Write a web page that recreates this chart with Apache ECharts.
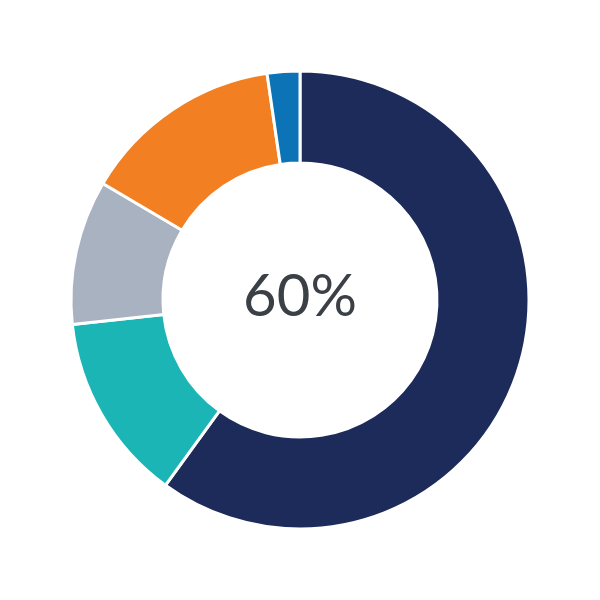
<!DOCTYPE html>
<html>
<head>
<meta charset="utf-8">
<script src="https://cdn.jsdelivr.net/npm/echarts@6/dist/echarts.min.js"></script>
<style>
  html, body { margin: 0; padding: 0; background: #ffffff; }
  #chart { width: 600px; height: 600px; }
</style>
</head>
<body>
<div id="chart"></div>
<script>
// slices clockwise from 12 o'clock
const sliceNames = ['Navy', 'Teal', 'Grey', 'Orange', 'Blue'];
const sliceValues = [60, 13.3, 10.2, 14.2, 2.3];
const sliceColors = ['#1d2b5b', '#1cb5b6', '#a9b2c1', '#f28022', '#0b73b6'];
const centerLabel = '60%';

const chart = echarts.init(document.getElementById('chart'));

chart.setOption({
    backgroundColor: '#ffffff',
    graphic: [{
        type: 'text',
        x: 300,
        y: 297,
        style: {
            text: centerLabel,
            align: 'center',
            verticalAlign: 'middle',
            fontFamily: 'Lato',
            fontWeight: 'normal',
            fontSize: 58,
            fill: '#3b4046'
        }
    }],
    series: [{
        type: 'pie',
        center: [300, 300],
        radius: [137, 229],
        startAngle: 90,
        clockwise: true,
        silent: true,
        label: { show: false },
        labelLine: { show: false },
        itemStyle: {
            borderColor: '#ffffff',
            borderWidth: 3
        },
        data: sliceNames.map((name, i) => ({
            name,
            value: sliceValues[i],
            itemStyle: { color: sliceColors[i] }
        }))
    }]
});
</script>
</body>
</html>
